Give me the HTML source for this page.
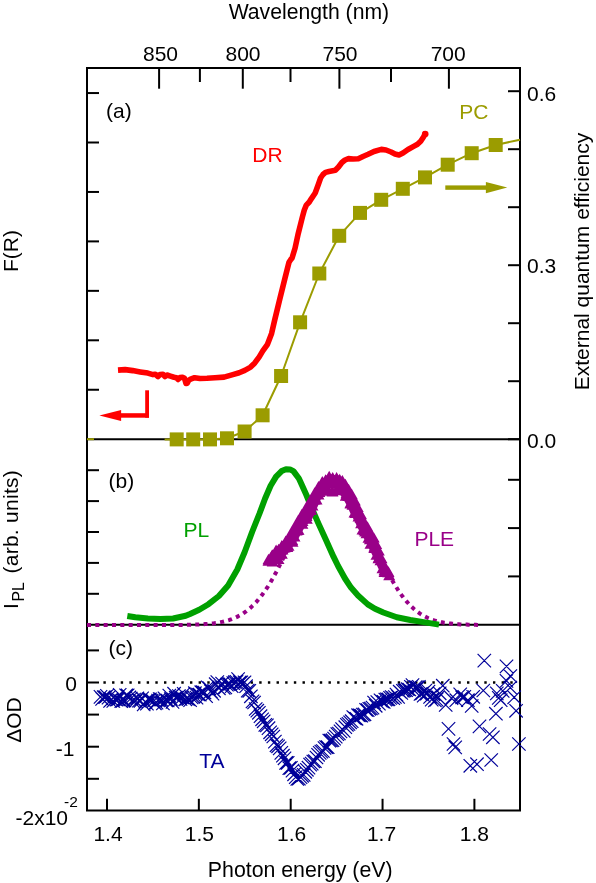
<!DOCTYPE html>
<html><head><meta charset="utf-8"><style>
html,body{margin:0;padding:0;background:#fff;}
svg{display:block;font-family:"Liberation Sans",sans-serif;will-change:transform;}
</style></head><body>
<svg width="596" height="883" viewBox="0 0 596 883">
<rect width="596" height="883" fill="#fff"/>
<path d="M87,68 H520 V810.4 H87 Z" fill="none" stroke="#000" stroke-width="2" stroke-linejoin="miter"/>
<line x1="88.00" y1="439.20" x2="520.00" y2="439.20" stroke="#000" stroke-width="2" />
<line x1="87.00" y1="624.70" x2="520.00" y2="624.70" stroke="#000" stroke-width="2" />
<line x1="159.10" y1="68.00" x2="159.10" y2="88.70" stroke="#000" stroke-width="2" />
<text x="160.50" y="60.50" text-anchor="middle" fill="#000" font-size="21" >850</text>
<line x1="242.80" y1="68.00" x2="242.80" y2="88.70" stroke="#000" stroke-width="2" />
<text x="243.05" y="60.50" text-anchor="middle" fill="#000" font-size="21" >800</text>
<line x1="339.40" y1="68.00" x2="339.40" y2="88.70" stroke="#000" stroke-width="2" />
<text x="340.05" y="60.50" text-anchor="middle" fill="#000" font-size="21" >750</text>
<line x1="448.90" y1="68.00" x2="448.90" y2="88.70" stroke="#000" stroke-width="2" />
<text x="448.15" y="60.50" text-anchor="middle" fill="#000" font-size="21" >700</text>
<line x1="199.90" y1="68.00" x2="199.90" y2="82.00" stroke="#000" stroke-width="2" />
<line x1="290.50" y1="68.00" x2="290.50" y2="82.00" stroke="#000" stroke-width="2" />
<line x1="391.00" y1="68.00" x2="391.00" y2="82.00" stroke="#000" stroke-width="2" />
<text x="308.90" y="19.20" text-anchor="middle" fill="#000" font-size="21.2" >Wavelength (nm)</text>
<line x1="107.00" y1="810.40" x2="107.00" y2="798.80" stroke="#000" stroke-width="2" />
<text x="108.00" y="841.40" text-anchor="middle" fill="#000" font-size="21" >1.4</text>
<line x1="198.85" y1="810.40" x2="198.85" y2="798.80" stroke="#000" stroke-width="2" />
<text x="199.35" y="841.40" text-anchor="middle" fill="#000" font-size="21" >1.5</text>
<line x1="290.70" y1="810.40" x2="290.70" y2="798.80" stroke="#000" stroke-width="2" />
<text x="291.70" y="841.40" text-anchor="middle" fill="#000" font-size="21" >1.6</text>
<line x1="382.55" y1="810.40" x2="382.55" y2="798.80" stroke="#000" stroke-width="2" />
<text x="381.55" y="841.40" text-anchor="middle" fill="#000" font-size="21" >1.7</text>
<line x1="474.40" y1="810.40" x2="474.40" y2="798.80" stroke="#000" stroke-width="2" />
<text x="474.40" y="841.40" text-anchor="middle" fill="#000" font-size="21" >1.8</text>
<text x="300.20" y="876.60" text-anchor="middle" fill="#000" font-size="21.3" >Photon energy (eV)</text>
<line x1="87.00" y1="389.75" x2="99.00" y2="389.75" stroke="#000" stroke-width="2" />
<line x1="87.00" y1="340.30" x2="99.00" y2="340.30" stroke="#000" stroke-width="2" />
<line x1="87.00" y1="290.85" x2="99.00" y2="290.85" stroke="#000" stroke-width="2" />
<line x1="87.00" y1="241.40" x2="99.00" y2="241.40" stroke="#000" stroke-width="2" />
<line x1="87.00" y1="191.95" x2="99.00" y2="191.95" stroke="#000" stroke-width="2" />
<line x1="87.00" y1="142.50" x2="99.00" y2="142.50" stroke="#000" stroke-width="2" />
<line x1="87.00" y1="93.05" x2="99.00" y2="93.05" stroke="#000" stroke-width="2" />
<line x1="508.00" y1="439.20" x2="520.00" y2="439.20" stroke="#000" stroke-width="2" />
<line x1="508.00" y1="381.20" x2="520.00" y2="381.20" stroke="#000" stroke-width="2" />
<line x1="508.00" y1="323.20" x2="520.00" y2="323.20" stroke="#000" stroke-width="2" />
<line x1="508.00" y1="265.20" x2="520.00" y2="265.20" stroke="#000" stroke-width="2" />
<line x1="508.00" y1="207.20" x2="520.00" y2="207.20" stroke="#000" stroke-width="2" />
<line x1="508.00" y1="149.20" x2="520.00" y2="149.20" stroke="#000" stroke-width="2" />
<line x1="508.00" y1="91.20" x2="520.00" y2="91.20" stroke="#000" stroke-width="2" />
<text x="527.00" y="101.00" text-anchor="start" fill="#000" font-size="21" >0.6</text>
<text x="527.00" y="273.40" text-anchor="start" fill="#000" font-size="21" >0.3</text>
<text x="527.00" y="447.50" text-anchor="start" fill="#000" font-size="21" >0.0</text>
<text x="106.00" y="117.50" text-anchor="start" fill="#000" font-size="21" >(a)</text>
<line x1="87.00" y1="593.80" x2="99.00" y2="593.80" stroke="#000" stroke-width="2" />
<line x1="87.00" y1="562.90" x2="99.00" y2="562.90" stroke="#000" stroke-width="2" />
<line x1="87.00" y1="532.00" x2="99.00" y2="532.00" stroke="#000" stroke-width="2" />
<line x1="87.00" y1="501.10" x2="99.00" y2="501.10" stroke="#000" stroke-width="2" />
<line x1="87.00" y1="470.20" x2="99.00" y2="470.20" stroke="#000" stroke-width="2" />
<line x1="508.00" y1="576.40" x2="520.00" y2="576.40" stroke="#000" stroke-width="2" />
<line x1="508.00" y1="528.10" x2="520.00" y2="528.10" stroke="#000" stroke-width="2" />
<line x1="508.00" y1="479.80" x2="520.00" y2="479.80" stroke="#000" stroke-width="2" />
<text x="108.50" y="488.00" text-anchor="start" fill="#000" font-size="21" >(b)</text>
<line x1="87.00" y1="778.80" x2="99.00" y2="778.80" stroke="#000" stroke-width="2" />
<line x1="87.00" y1="746.70" x2="99.00" y2="746.70" stroke="#000" stroke-width="2" />
<line x1="87.00" y1="714.60" x2="99.00" y2="714.60" stroke="#000" stroke-width="2" />
<line x1="87.00" y1="682.50" x2="99.00" y2="682.50" stroke="#000" stroke-width="2" />
<line x1="87.00" y1="650.40" x2="99.00" y2="650.40" stroke="#000" stroke-width="2" />
<text x="108.50" y="655.00" text-anchor="start" fill="#000" font-size="21" >(c)</text>
<text x="77.00" y="690.70" text-anchor="end" fill="#000" font-size="21" >0</text>
<text x="74.50" y="756.20" text-anchor="end" fill="#000" font-size="21" >-1</text>
<text x="68.00" y="825.00" text-anchor="end" fill="#000" font-size="21" >-2x10</text>
<text x="64.00" y="807.20" text-anchor="start" fill="#000" font-size="15.5" >-2</text>
<text transform="translate(17.8,251) rotate(-90)" text-anchor="middle" font-size="21">F(R)</text>
<text transform="translate(18.1,608.9) rotate(-90)" font-size="21">I</text>
<text transform="translate(24.2,601.6) rotate(-90)" font-size="16">PL</text>
<text transform="translate(18.1,573.6) rotate(-90)" font-size="21" letter-spacing="0.28">(arb. units)</text>
<text transform="translate(21,720) rotate(-90)" text-anchor="middle" font-size="21">&#916;OD</text>
<text transform="translate(588.7,261.5) rotate(-90)" text-anchor="middle" font-size="21">External quantum efficiency</text>
<text x="252.30" y="162.00" text-anchor="start" fill="#ff0000" font-size="21" >DR</text>
<text x="459.30" y="119.40" text-anchor="start" fill="#9b9c00" font-size="21" >PC</text>
<text x="183.60" y="537.30" text-anchor="start" fill="#00a000" font-size="21" >PL</text>
<text x="414.40" y="545.50" text-anchor="start" fill="#990088" font-size="21" >PLE</text>
<text x="199.30" y="768.00" text-anchor="start" fill="#000099" font-size="21" >TA</text>
<line x1="87.00" y1="439.20" x2="94.00" y2="439.20" stroke="#9b9c00" stroke-width="2" />
<path d="M164.6,439.4 L176.7,439.4 L193.2,439.4 L210.0,439.4 L227.0,438.3 L244.6,431.5 L262.6,415.3 L281.1,376.0 L300.1,322.3 L319.3,273.5 L339.2,235.8 L360.0,212.9 L381.2,199.8 L402.8,188.8 L425.0,177.4 L447.7,164.7 L471.7,153.2 L495.7,145.0 L520.0,139.7" fill="none" stroke="#9b9c00" stroke-width="2" stroke-linejoin="round" stroke-linecap="butt" />
<rect x="169.7" y="432.4" width="14" height="14" fill="#9b9c00"/>
<rect x="186.2" y="432.4" width="14" height="14" fill="#9b9c00"/>
<rect x="203.0" y="432.4" width="14" height="14" fill="#9b9c00"/>
<rect x="220.0" y="431.3" width="14" height="14" fill="#9b9c00"/>
<rect x="237.6" y="424.5" width="14" height="14" fill="#9b9c00"/>
<rect x="255.6" y="408.3" width="14" height="14" fill="#9b9c00"/>
<rect x="274.1" y="369.0" width="14" height="14" fill="#9b9c00"/>
<rect x="293.1" y="315.3" width="14" height="14" fill="#9b9c00"/>
<rect x="312.3" y="266.5" width="14" height="14" fill="#9b9c00"/>
<rect x="332.2" y="228.8" width="14" height="14" fill="#9b9c00"/>
<rect x="353.0" y="205.9" width="14" height="14" fill="#9b9c00"/>
<rect x="374.2" y="192.8" width="14" height="14" fill="#9b9c00"/>
<rect x="395.8" y="181.8" width="14" height="14" fill="#9b9c00"/>
<rect x="418.0" y="170.4" width="14" height="14" fill="#9b9c00"/>
<rect x="440.7" y="157.7" width="14" height="14" fill="#9b9c00"/>
<rect x="464.7" y="146.2" width="14" height="14" fill="#9b9c00"/>
<rect x="488.7" y="138.0" width="14" height="14" fill="#9b9c00"/>
<rect x="445.3" y="185.4" width="41" height="4.4" fill="#9b9c00"/>
<path d="M485.9,182 L507.3,187.5 L485.9,193.3 Z" fill="#9b9c00"/>
<path d="M118.0,370.1 L125.1,369.6 L132.7,370.6 L140.2,371.9 L147.8,373.1 L153.0,374.6 L155.3,374.2 L158.0,376.5 L160.0,374.5 L162.9,374.3 L165.0,376.5 L167.0,375.0 L170.4,376.1 L174.0,377.2 L176.4,377.7 L178.0,379.5 L180.0,377.5 L182.5,377.2 L184.5,378.2 L186.0,383.5 L187.3,383.2 L188.5,380.5 L190.0,379.4 L194.6,377.7 L200.0,378.5 L207.0,378.3 L215.0,377.8 L224.1,377.1 L232.8,374.6 L239.2,372.8 L244.8,370.4 L250.6,367.1 L254.8,362.9 L259.1,357.1 L262.8,350.9 L267.5,344.3 L271.6,333.4 L274.7,320.0 L279.8,299.0 L284.9,278.5 L289.0,262.2 L290.8,259.5 L292.0,258.2 L295.1,248.0 L298.2,233.7 L302.3,217.4 L304.3,210.0 L306.3,205.2 L309.3,202.0 L311.1,199.1 L315.2,193.0 L318.5,184.0 L320.6,178.0 L323.0,174.5 L325.5,172.4 L329.0,171.5 L335.3,170.3 L338.5,167.0 L341.9,162.5 L345.0,160.0 L348.5,158.6 L353.0,159.0 L358.3,158.8 L363.0,156.5 L368.1,154.3 L374.0,151.5 L381.3,149.4 L386.0,150.0 L391.1,152.0 L395.0,154.0 L399.0,155.0 L403.0,153.0 L408.0,149.5 L414.1,146.1 L417.5,144.2 L420.7,141.2 L423.5,137.0 L425.0,134.2 L426.0,132.6" fill="none" stroke="#ff0000" stroke-width="5.6" stroke-linejoin="round" stroke-linecap="butt" />
<circle cx="425.2" cy="134.0" r="3.3" fill="#ff0000"/>
<rect x="145.2" y="390.3" width="3.8" height="27.4" fill="#ff0000"/>
<rect x="120" y="413.2" width="29" height="4.5" fill="#ff0000"/>
<path d="M99.4,415.6 L121.1,410 L121.1,421.1 Z" fill="#ff0000"/>
<path d="M87.0,625.0 L88.0,625.0 L89.0,625.0 L90.0,625.0 L91.0,625.0 L92.0,625.0 L93.0,625.0 L94.0,625.0 L95.0,625.0 L96.0,625.0 L97.0,625.0 L98.0,625.0 L99.0,625.0 L100.0,625.0 L101.0,625.0 L102.0,625.0 L103.0,625.0 L104.0,625.0 L105.0,625.0 L106.0,625.0 L107.0,625.0 L108.0,625.0 L109.0,625.0 L110.0,625.0 L111.0,625.0 L112.0,625.0 L113.0,625.0 L114.0,625.0 L115.0,625.0 L116.0,625.0 L117.0,625.0 L118.0,625.0 L119.0,625.0 L120.0,625.0 L121.0,625.0 L122.0,625.0 L123.0,625.0 L124.0,625.0 L125.0,625.0 L126.0,625.0 L127.0,625.0 L128.0,625.0 L129.0,625.0 L130.0,625.0 L131.0,625.0 L132.0,625.0 L133.0,625.0 L134.0,625.0 L135.0,625.0 L136.0,625.0 L137.0,625.0 L138.0,625.0 L139.0,625.0 L140.0,625.0 L141.0,625.0 L142.0,625.0 L143.0,625.0 L144.0,625.0 L145.0,625.0 L146.0,625.0 L147.0,625.0 L148.0,625.0 L149.0,625.0 L150.0,625.0 L151.0,625.0 L152.0,625.0 L153.0,625.0 L154.0,625.0 L155.0,625.0 L156.0,625.0 L157.0,625.0 L158.0,625.0 L159.0,625.0 L160.0,625.0 L161.0,625.0 L162.0,625.0 L163.0,625.0 L164.0,625.0 L165.0,625.0 L166.0,625.0 L167.0,625.0 L168.0,625.0 L169.0,625.0 L170.0,625.0 L171.0,625.0 L172.0,625.0 L173.0,625.0 L174.0,624.9 L175.0,624.9 L176.0,624.9 L177.0,624.9 L178.0,624.9 L179.0,624.9 L180.0,624.9 L181.0,624.9 L182.0,624.9 L183.0,624.9 L184.0,624.9 L185.0,624.8 L186.0,624.8 L187.0,624.8 L188.0,624.8 L189.0,624.8 L190.0,624.8 L191.0,624.7 L192.0,624.7 L193.0,624.7 L194.0,624.7 L195.0,624.6 L196.0,624.6 L197.0,624.6 L198.0,624.5 L199.0,624.5 L200.0,624.4 L201.0,624.4 L202.0,624.3 L203.0,624.3 L204.0,624.2 L205.0,624.1 L206.0,624.1 L207.0,624.0 L208.0,623.9 L209.0,623.8 L210.0,623.7 L211.0,623.6 L212.0,623.5 L213.0,623.4 L214.0,623.3 L215.0,623.1 L216.0,623.0 L217.0,622.8 L218.0,622.7 L219.0,622.5 L220.0,622.3 L221.0,622.1 L222.0,621.9 L223.0,621.7 L224.0,621.5 L225.0,621.2 L226.0,620.9 L227.0,620.7 L228.0,620.4 L229.0,620.1 L230.0,619.7 L231.0,619.4 L232.0,619.0 L233.0,618.6 L234.0,618.2 L235.0,617.8 L236.0,617.3 L237.0,616.9 L238.0,616.4 L239.0,615.8 L240.0,615.3 L241.0,614.7 L242.0,614.1 L243.0,613.5 L244.0,612.8 L245.0,612.1 L246.0,611.4 L247.0,610.6 L248.0,609.8 L249.0,609.0 L250.0,608.2 L251.0,607.3 L252.0,606.3 L253.0,605.4 L254.0,604.4 L255.0,603.3 L256.0,602.3 L257.0,601.2 L258.0,600.0 L259.0,598.8 L260.0,597.6 L261.0,596.3 L262.0,595.0 L263.0,593.6 L264.0,592.2 L265.0,590.8 L266.0,589.3 L267.0,587.8 L268.0,586.3 L269.0,584.7 L270.0,583.1 L271.0,581.4 L272.0,579.7 L273.0,577.9 L274.0,576.1 L275.0,574.3 L276.0,572.5 L277.0,570.6 L278.0,568.7 L279.0,566.7 L280.0,564.7 L281.0,562.7 L282.0,560.7 L283.0,558.6 L284.0,556.5 L285.0,554.4 L286.0,552.3 L287.0,550.2 L288.0,548.0 L289.0,545.8 L290.0,543.6 L291.0,541.4 L292.0,539.3 L293.0,537.1 L294.0,534.9 L295.0,532.7 L296.0,530.5 L297.0,528.3 L298.0,526.1 L299.0,524.0 L300.0,521.8 L301.0,519.7 L302.0,517.6 L303.0,515.5 L304.0,513.5 L305.0,511.5 L306.0,509.5 L307.0,507.6 L308.0,505.7 L309.0,503.9 L310.0,502.1 L311.0,500.4 L312.0,498.7 L313.0,497.0 L314.0,495.5 L315.0,494.0 L316.0,492.5 L317.0,491.1 L318.0,489.8 L319.0,488.6 L320.0,487.5 L321.0,486.4 L322.0,485.4 L323.0,484.5 L324.0,483.6 L325.0,482.9 L326.0,482.2 L327.0,481.6 L328.0,481.1 L329.0,480.7 L330.0,480.4 L331.0,480.2 L332.0,480.0 L333.0,480.0 L334.0,480.0 L335.0,480.2 L336.0,480.4 L337.0,480.8 L338.0,481.2 L339.0,481.7 L340.0,482.4 L341.0,483.1 L342.0,483.9 L343.0,484.8 L344.0,485.8 L345.0,486.8 L346.0,488.0 L347.0,489.2 L348.0,490.5 L349.0,491.9 L350.0,493.4 L351.0,494.9 L352.0,496.5 L353.0,498.2 L354.0,499.9 L355.0,501.7 L356.0,503.6 L357.0,505.5 L358.0,507.4 L359.0,509.4 L360.0,511.5 L361.0,513.5 L362.0,515.7 L363.0,517.8 L364.0,520.0 L365.0,522.2 L366.0,524.4 L367.0,526.6 L368.0,528.9 L369.0,531.1 L370.0,533.4 L371.0,535.7 L372.0,538.0 L373.0,540.2 L374.0,542.5 L375.0,544.8 L376.0,547.0 L377.0,549.3 L378.0,551.5 L379.0,553.7 L380.0,555.9 L381.0,558.1 L382.0,560.2 L383.0,562.3 L384.0,564.4 L385.0,566.5 L386.0,568.5 L387.0,570.5 L388.0,572.5 L389.0,574.4 L390.0,576.3 L391.0,578.1 L392.0,579.9 L393.0,581.7 L394.0,583.4 L395.0,585.1 L396.0,586.7 L397.0,588.3 L398.0,589.9 L399.0,591.4 L400.0,592.9 L401.0,594.3 L402.0,595.7 L403.0,597.0 L404.0,598.3 L405.0,599.5 L406.0,600.7 L407.0,601.9 L408.0,603.0 L409.0,604.1 L410.0,605.2 L411.0,606.2 L412.0,607.1 L413.0,608.1 L414.0,609.0 L415.0,609.8 L416.0,610.6 L417.0,611.4 L418.0,612.2 L419.0,612.9 L420.0,613.6 L421.0,614.2 L422.0,614.8 L423.0,615.4 L424.0,616.0 L425.0,616.5 L426.0,617.0 L427.0,617.5 L428.0,618.0 L429.0,618.4 L430.0,618.8 L431.0,619.2 L432.0,619.6 L433.0,619.9 L434.0,620.3 L435.0,620.6 L436.0,620.9 L437.0,621.2 L438.0,621.4 L439.0,621.7 L440.0,621.9 L441.0,622.1 L442.0,622.3 L443.0,622.5 L444.0,622.7 L445.0,622.8 L446.0,623.0 L447.0,623.1 L448.0,623.3 L449.0,623.4 L450.0,623.5 L451.0,623.6 L452.0,623.7 L453.0,623.8 L454.0,623.9 L455.0,624.0 L456.0,624.1 L457.0,624.2 L458.0,624.2 L459.0,624.3 L460.0,624.4 L461.0,624.4 L462.0,624.5 L463.0,624.5 L464.0,624.5 L465.0,624.6 L466.0,624.6 L467.0,624.6 L468.0,624.7 L469.0,624.7 L470.0,624.7 L471.0,624.8 L472.0,624.8 L473.0,624.8 L474.0,624.8 L475.0,624.8 L476.0,624.8 L477.0,624.9 L478.0,624.9 L479.0,624.9 L480.0,624.9 L481.0,624.9 L482.0,624.9" fill="none" stroke="#990088" stroke-width="4" stroke-linejoin="round" stroke-linecap="butt" stroke-dasharray="4 4.33"/>
<path d="M127.3,616.0 L135.3,617.3 L147.9,618.5 L160.5,619.0 L173.1,618.5 L185.7,615.8 L190.0,614.0 L199.2,609.8 L208.5,604.2 L218.9,596.0 L228.1,585.5 L237.3,569.5 L244.7,552.0 L252.1,532.0 L259.5,513.5 L265.0,498.8 L270.6,485.8 L276.1,476.6 L281.6,471.1 L286.0,469.2 L290.0,469.4 L293.4,471.1 L298.9,478.5 L300.3,481.5 L306.4,495.0 L312.4,509.8 L318.4,523.4 L326.0,540.0 L333.5,556.7 L338.1,566.0 L345.0,578.5 L351.0,587.6 L358.0,595.5 L367.8,604.4 L375.0,608.8 L383.4,612.5 L396.8,617.3 L410.3,620.0 L423.7,622.1 L439.0,624.6" fill="none" stroke="#00a000" stroke-width="6.0" stroke-linejoin="round" stroke-linecap="butt" />
<path d="M269.0,558.7 L270.0,557.5 L271.0,556.2 L272.0,555.1 L273.0,554.1 L274.0,553.1 L275.0,552.1 L276.0,551.1 L277.0,550.1 L278.0,549.1 L279.0,548.2 L280.0,547.3 L281.0,546.3 L282.0,545.4 L283.0,544.5 L284.0,543.4 L285.0,542.4 L286.0,541.3 L287.0,540.2 L288.0,539.2 L289.0,538.0 L290.0,535.9 L291.0,533.7 L292.0,531.6 L293.0,529.5 L294.0,527.9 L295.0,526.2 L296.0,524.6 L297.0,522.9 L298.0,521.3 L299.0,519.7 L300.0,518.1 L301.0,516.5 L302.0,514.9 L303.0,513.3 L304.0,511.7 L305.0,510.1 L306.0,508.4 L307.0,506.7 L308.0,504.9 L309.0,503.2 L310.0,501.5 L311.0,499.8 L312.0,498.0 L313.0,496.3 L314.0,494.6 L315.0,492.8 L316.0,491.1 L317.0,489.3 L318.0,487.5 L319.0,486.2 L320.0,485.0 L321.0,483.7 L322.0,482.4 L323.0,481.3 L324.0,480.4 L325.0,479.4 L326.0,478.5 L327.0,477.9 L328.0,477.4 L329.0,476.8 L330.0,476.3 L331.0,476.1 L332.0,476.4 L333.0,476.7 L334.0,477.0 L335.0,477.2 L336.0,477.5 L337.0,478.1 L338.0,478.7 L339.0,479.3 L340.0,479.9 L341.0,480.6 L342.0,481.2 L343.0,482.0 L344.0,483.2 L345.0,484.5 L346.0,485.8 L347.0,487.0 L348.0,488.3 L349.0,489.8 L350.0,491.7 L351.0,493.6 L352.0,495.6 L353.0,497.5 L354.0,499.5 L355.0,501.6 L356.0,503.6 L357.0,505.7 L358.0,507.8 L359.0,510.3 L360.0,512.8 L361.0,515.4 L362.0,517.9 L363.0,520.4 L364.0,522.7 L365.0,524.1 L366.0,525.6 L367.0,527.0 L368.0,528.5 L369.0,530.0 L370.0,531.6 L371.0,533.1 L372.0,534.6 L373.0,536.3 L374.0,538.8 L375.0,541.3 L376.0,543.8 L377.0,546.3 L378.0,548.8 L379.0,551.3 L380.0,553.7 L381.0,556.1 L382.0,558.5 L383.0,560.9 L384.0,563.4 L385.0,565.8 L386.0,568.2 L387.0,570.3 L388.0,572.1 L389.0,573.9 L389.0,574.5 L388.0,574.5 L387.0,574.5 L386.0,574.5 L385.0,574.5 L384.0,574.5 L383.0,574.5 L382.0,574.5 L381.0,574.5 L380.0,572.0 L379.0,569.8 L378.0,567.7 L377.0,565.6 L376.0,563.5 L375.0,561.1 L374.0,558.8 L373.0,556.4 L372.0,554.4 L371.0,552.4 L370.0,550.5 L369.0,548.5 L368.0,546.5 L367.0,544.5 L366.0,542.5 L365.0,540.5 L364.0,538.5 L363.0,536.8 L362.0,535.1 L361.0,533.5 L360.0,531.8 L359.0,530.2 L358.0,528.5 L357.0,526.4 L356.0,524.3 L355.0,522.1 L354.0,520.2 L353.0,518.2 L352.0,516.3 L351.0,514.4 L350.0,512.5 L349.0,510.3 L348.0,508.1 L347.0,506.0 L346.0,504.1 L345.0,502.3 L344.0,500.4 L343.0,498.5 L342.0,497.3 L341.0,496.0 L340.0,494.8 L339.0,493.6 L338.0,492.4 L337.0,491.2 L336.0,490.1 L335.0,489.0 L334.0,488.7 L333.0,488.5 L332.0,488.2 L331.0,488.0 L330.0,488.4 L329.0,488.9 L328.0,489.3 L327.0,490.2 L326.0,491.3 L325.0,492.5 L324.0,493.7 L323.0,494.8 L322.0,496.4 L321.0,498.7 L320.0,501.1 L319.0,503.4 L318.0,505.7 L317.0,508.0 L316.0,510.3 L315.0,512.5 L314.0,514.7 L313.0,517.0 L312.0,519.2 L311.0,520.6 L310.0,521.6 L309.0,522.6 L308.0,523.6 L307.0,524.6 L306.0,525.6 L305.0,526.6 L304.0,528.4 L303.0,530.2 L302.0,532.0 L301.0,533.8 L300.0,535.6 L299.0,537.4 L298.0,539.1 L297.0,540.6 L296.0,542.0 L295.0,543.4 L294.0,544.8 L293.0,546.3 L292.0,547.7 L291.0,549.1 L290.0,550.5 L289.0,552.0 L288.0,553.0 L287.0,554.0 L286.0,555.0 L285.0,556.0 L284.0,556.9 L283.0,557.9 L282.0,558.9 L281.0,559.9 L280.0,560.1 L279.0,560.1 L278.0,560.1 L277.0,560.1 L276.0,560.1 L275.0,560.0 L274.0,560.0 L273.0,560.0 L272.0,560.0 L271.0,560.0 L270.0,560.0 L269.0,559.8 Z" fill="#990088"/>
<path d="M268.5,553.8L274.5,564.3L262.5,564.3ZM272.2,549.3L278.2,559.8L266.2,559.8ZM276.1,544.6L282.1,555.1L270.1,555.1ZM278.6,543.8L284.6,554.3L272.6,554.3ZM281.8,540.1L287.8,550.6L275.8,550.6ZM285.7,535.5L291.7,546.0L279.7,546.0ZM288.4,532.9L294.4,543.4L282.4,543.4ZM291.7,525.9L297.7,536.4L285.7,536.4ZM295.0,520.2L301.0,530.7L289.0,530.7ZM298.0,514.9L304.0,525.4L292.0,525.4ZM301.8,508.7L307.8,519.2L295.8,519.2ZM305.5,503.1L311.5,513.6L299.5,513.6ZM308.2,498.3L314.2,508.8L302.2,508.8ZM310.7,494.0L316.7,504.5L304.7,504.5ZM314.6,487.3L320.6,497.8L308.6,497.8ZM318.5,480.9L324.5,491.4L312.5,491.4ZM322.3,476.0L328.3,486.5L316.3,486.5ZM325.6,474.3L331.6,484.8L319.6,484.8ZM329.2,470.8L335.2,481.3L323.2,481.3ZM332.7,471.9L338.7,482.4L326.7,482.4ZM336.6,471.9L342.6,482.4L330.6,482.4ZM339.7,473.7L345.7,484.2L333.7,484.2ZM342.4,475.1L348.4,485.6L336.4,485.6ZM345.4,478.7L351.4,489.2L339.4,489.2ZM348.8,484.1L354.8,494.6L342.8,494.6ZM351.8,488.7L357.8,499.2L345.8,499.2ZM354.8,495.0L360.8,505.5L348.8,505.5ZM357.7,501.5L363.7,512.0L351.7,512.0ZM361.0,508.8L367.0,519.3L355.0,519.3ZM364.9,517.8L370.9,528.3L358.9,528.3ZM367.5,521.2L373.5,531.7L361.5,531.7ZM370.0,526.6L376.0,537.1L364.0,537.1ZM373.7,532.1L379.7,542.6L367.7,542.6ZM376.2,538.5L382.2,549.0L370.2,549.0ZM378.8,545.1L384.8,555.6L372.8,555.6ZM381.5,552.7L387.5,563.2L375.5,563.2ZM385.2,561.5L391.2,572.0L379.2,572.0ZM388.2,566.8L394.2,577.3L382.2,577.3ZM268.5,555.2L274.5,565.7L262.5,565.7ZM272.7,555.9L278.7,566.4L266.7,566.4ZM277.8,552.9L283.8,563.4L271.8,563.4ZM281.8,548.2L287.8,558.7L275.8,558.7ZM287.3,541.5L293.3,552.0L281.3,552.0ZM292.2,534.6L298.2,545.1L286.2,545.1ZM297.6,524.6L303.6,535.1L291.6,535.1ZM302.4,518.3L308.4,528.8L296.4,528.8ZM306.8,513.2L312.8,523.7L300.8,523.7ZM311.0,503.8L317.0,514.3L305.0,514.3ZM315.2,493.7L321.2,504.2L309.2,504.2ZM319.4,486.4L325.4,496.9L313.4,496.9ZM323.5,484.0L329.5,494.5L317.5,494.5ZM328.1,484.7L334.1,495.2L322.1,495.2ZM332.5,486.0L338.5,496.5L326.5,496.5ZM337.1,483.5L343.1,494.0L331.1,494.0ZM341.8,484.7L347.8,495.2L335.8,495.2ZM345.8,490.2L351.8,500.7L339.8,500.7ZM350.6,497.3L356.6,507.8L344.6,507.8ZM355.7,507.5L361.7,518.0L349.7,518.0ZM361.1,517.7L367.1,528.2L355.1,528.2ZM365.2,525.9L371.2,536.4L359.2,536.4ZM369.9,533.7L375.9,544.2L363.9,544.2ZM374.3,542.4L380.3,552.9L368.3,552.9ZM379.0,551.5L385.0,562.0L373.0,562.0ZM384.5,564.7L390.5,575.2L378.5,575.2ZM389.2,569.7L395.2,580.2L383.2,580.2ZM268.5,553.8L274.5,564.3L262.5,564.3ZM270.5,551.9L276.5,562.4L264.5,562.4ZM272.5,553.3L278.5,563.8L266.5,563.8ZM274.5,551.5L280.5,562.0L268.5,562.0ZM276.5,550.9L282.5,561.4L270.5,561.4ZM278.5,553.4L284.5,563.9L272.5,563.9ZM280.5,547.1L286.5,557.6L274.5,557.6ZM282.5,544.0L288.5,554.5L276.5,554.5ZM284.5,542.0L290.5,552.5L278.5,552.5ZM286.5,541.2L292.5,551.7L280.5,551.7ZM288.5,540.3L294.5,550.8L282.5,550.8ZM290.5,535.8L296.5,546.3L284.5,546.3ZM292.5,536.2L298.5,546.7L286.5,546.7ZM294.5,530.9L300.5,541.4L288.5,541.4ZM296.5,525.1L302.5,535.6L290.5,535.6ZM298.5,524.2L304.5,534.7L292.5,534.7ZM300.5,516.6L306.5,527.1L294.5,527.1ZM302.5,515.6L308.5,526.1L296.5,526.1ZM304.5,510.4L310.5,520.9L298.5,520.9ZM306.5,510.4L312.5,520.9L300.5,520.9ZM308.5,505.7L314.5,516.2L302.5,516.2ZM310.5,504.4L316.5,514.9L304.5,514.9ZM312.5,500.1L318.5,510.6L306.5,510.6ZM314.5,494.3L320.5,504.8L308.5,504.8ZM316.5,494.0L322.5,504.5L310.5,504.5ZM318.5,489.1L324.5,499.6L312.5,499.6ZM320.5,484.6L326.5,495.1L314.5,495.1ZM322.5,485.3L328.5,495.8L316.5,495.8ZM324.5,479.5L330.5,490.0L318.5,490.0ZM326.5,478.2L332.5,488.7L320.5,488.7ZM328.5,477.0L334.5,487.5L322.5,487.5ZM330.5,474.7L336.5,485.2L324.5,485.2ZM332.5,476.0L338.5,486.5L326.5,486.5ZM334.5,475.9L340.5,486.4L328.5,486.4ZM336.5,476.3L342.5,486.8L330.5,486.8ZM338.5,481.2L344.5,491.7L332.5,491.7ZM340.5,479.2L346.5,489.7L334.5,489.7ZM342.5,484.2L348.5,494.7L336.5,494.7ZM344.5,484.8L350.5,495.3L338.5,495.3ZM346.5,487.7L352.5,498.2L340.5,498.2ZM348.5,490.5L354.5,501.0L342.5,501.0ZM350.5,497.9L356.5,508.4L344.5,508.4ZM352.5,499.3L358.5,509.8L346.5,509.8ZM354.5,507.1L360.5,517.6L348.5,517.6ZM356.5,505.6L362.5,516.1L350.5,516.1ZM358.5,511.1L364.5,521.6L352.5,521.6ZM360.5,512.3L366.5,522.8L354.5,522.8ZM362.5,523.9L368.5,534.4L356.5,534.4ZM364.5,524.8L370.5,535.3L358.5,535.3ZM366.5,527.7L372.5,538.2L360.5,538.2ZM368.5,532.2L374.5,542.7L362.5,542.7ZM370.5,538.3L376.5,548.8L364.5,548.8ZM372.5,535.4L378.5,545.9L366.5,545.9ZM374.5,541.0L380.5,551.5L368.5,551.5ZM376.5,549.2L382.5,559.7L370.5,559.7ZM378.5,552.8L384.5,563.3L372.5,563.3ZM380.5,554.8L386.5,565.3L374.5,565.3ZM382.5,562.8L388.5,573.3L376.5,573.3ZM384.5,566.6L390.5,577.1L378.5,577.1ZM386.5,563.4L392.5,573.9L380.5,573.9ZM388.5,566.3L394.5,576.8L382.5,576.8Z" fill="#990088"/>
<line x1="103.4" y1="682.5" x2="519" y2="682.5" stroke="#000" stroke-width="2.4" stroke-dasharray="2.4 6.257"/>
<path d="M93.8,690.2L107.2,703.6M93.8,703.6L107.2,690.2M95.4,692.2L108.8,705.6M95.4,705.6L108.8,692.2M97.0,690.5L110.4,703.9M97.0,703.9L110.4,690.5M98.6,690.4L112.0,703.8M98.6,703.8L112.0,690.4M100.2,689.1L113.6,702.5M100.2,702.5L113.6,689.1M101.8,690.9L115.2,704.3M101.8,704.3L115.2,690.9M103.4,694.2L116.8,707.6M103.4,707.6L116.8,694.2M105.0,692.7L118.4,706.1M105.0,706.1L118.4,692.7M106.6,694.3L120.0,707.7M106.6,707.7L120.0,694.3M108.2,692.5L121.6,705.9M108.2,705.9L121.6,692.5M109.8,693.0L123.2,706.4M109.8,706.4L123.2,693.0M111.4,692.6L124.8,706.0M111.4,706.0L124.8,692.6M113.0,688.2L126.4,701.6M113.0,701.6L126.4,688.2M114.6,694.4L128.0,707.8M114.6,707.8L128.0,694.4M116.2,693.7L129.6,707.1M116.2,707.1L129.6,693.7M117.8,693.8L131.2,707.2M117.8,707.2L131.2,693.8M119.4,688.6L132.8,702.0M119.4,702.0L132.8,688.6M121.0,688.6L134.4,702.0M121.0,702.0L134.4,688.6M122.6,690.7L136.0,704.1M122.6,704.1L136.0,690.7M124.2,691.8L137.6,705.2M124.2,705.2L137.6,691.8M125.8,693.7L139.2,707.1M125.8,707.1L139.2,693.7M127.4,692.9L140.8,706.3M127.4,706.3L140.8,692.9M129.0,694.3L142.4,707.7M129.0,707.7L142.4,694.3M130.6,691.6L144.0,705.0M130.6,705.0L144.0,691.6M132.2,693.9L145.6,707.3M132.2,707.3L145.6,693.9M133.8,694.2L147.2,707.6M133.8,707.6L147.2,694.2M135.4,691.7L148.8,705.1M135.4,705.1L148.8,691.7M137.0,697.7L150.4,711.1M137.0,711.1L150.4,697.7M138.6,695.1L152.0,708.5M138.6,708.5L152.0,695.1M140.2,696.9L153.6,710.3M140.2,710.3L153.6,696.9M141.8,692.7L155.2,706.1M141.8,706.1L155.2,692.7M143.4,692.7L156.8,706.1M143.4,706.1L156.8,692.7M145.0,693.8L158.4,707.2M145.0,707.2L158.4,693.8M146.6,694.6L160.0,708.0M146.6,708.0L160.0,694.6M148.2,696.6L161.6,710.0M148.2,710.0L161.6,696.6M149.8,695.9L163.2,709.3M149.8,709.3L163.2,695.9M151.4,693.8L164.8,707.2M151.4,707.2L164.8,693.8M153.0,692.3L166.4,705.7M153.0,705.7L166.4,692.3M154.6,693.0L168.0,706.4M154.6,706.4L168.0,693.0M156.2,696.8L169.6,710.2M156.2,710.2L169.6,696.8M157.8,691.6L171.2,705.0M157.8,705.0L171.2,691.6M159.4,693.7L172.8,707.1M159.4,707.1L172.8,693.7M161.0,693.8L174.4,707.2M161.0,707.2L174.4,693.8M162.6,688.9L176.0,702.3M162.6,702.3L176.0,688.9M164.2,692.3L177.6,705.7M164.2,705.7L177.6,692.3M165.8,695.2L179.2,708.6M165.8,708.6L179.2,695.2M167.4,687.0L180.8,700.4M167.4,700.4L180.8,687.0M169.0,690.9L182.4,704.3M169.0,704.3L182.4,690.9M170.6,691.2L184.0,704.6M170.6,704.6L184.0,691.2M172.2,689.3L185.6,702.7M172.2,702.7L185.6,689.3M173.8,692.3L187.2,705.7M173.8,705.7L187.2,692.3M175.4,690.8L188.8,704.2M175.4,704.2L188.8,690.8M177.0,687.2L190.4,700.6M177.0,700.6L190.4,687.2M178.6,692.6L192.0,706.0M178.6,706.0L192.0,692.6M180.2,692.0L193.6,705.4M180.2,705.4L193.6,692.0M181.8,692.5L195.2,705.9M181.8,705.9L195.2,692.5M183.4,693.5L196.8,706.9M183.4,706.9L196.8,693.5M185.0,690.8L198.4,704.2M185.0,704.2L198.4,690.8M186.6,690.1L200.0,703.5M186.6,703.5L200.0,690.1M188.2,686.5L201.6,699.9M188.2,699.9L201.6,686.5M189.8,690.9L203.2,704.3M189.8,704.3L203.2,690.9M191.4,687.8L204.8,701.2M191.4,701.2L204.8,687.8M193.0,688.0L206.4,701.4M193.0,701.4L206.4,688.0M194.6,685.5L208.0,698.9M194.6,698.9L208.0,685.5M196.2,685.5L209.6,698.9M196.2,698.9L209.6,685.5M197.8,685.8L211.2,699.2M197.8,699.2L211.2,685.8M199.4,689.4L212.8,702.8M199.4,702.8L212.8,689.4M201.0,680.7L214.4,694.1M201.0,694.1L214.4,680.7M202.6,681.4L216.0,694.8M202.6,694.8L216.0,681.4M204.2,684.7L217.6,698.1M204.2,698.1L217.6,684.7M205.8,686.9L219.2,700.3M205.8,700.3L219.2,686.9M207.4,684.1L220.8,697.5M207.4,697.5L220.8,684.1M209.0,677.5L222.4,690.9M209.0,690.9L222.4,677.5M210.6,675.3L224.0,688.7M210.6,688.7L224.0,675.3M212.2,681.6L225.6,695.0M212.2,695.0L225.6,681.6M213.8,678.3L227.2,691.7M213.8,691.7L227.2,678.3M215.4,676.8L228.8,690.2M215.4,690.2L228.8,676.8M217.0,681.2L230.4,694.6M217.0,694.6L230.4,681.2M218.6,680.8L232.0,694.2M218.6,694.2L232.0,680.8M220.2,677.9L233.6,691.3M220.2,691.3L233.6,677.9M221.8,677.5L235.2,690.9M221.8,690.9L235.2,677.5M223.4,677.3L236.8,690.7M223.4,690.7L236.8,677.3M225.0,679.4L238.4,692.8M225.0,692.8L238.4,679.4M226.6,676.4L240.0,689.8M226.6,689.8L240.0,676.4M228.2,675.5L241.6,688.9M228.2,688.9L241.6,675.5M229.8,675.2L243.2,688.6M229.8,688.6L243.2,675.2M231.4,672.3L244.8,685.7M231.4,685.7L244.8,672.3M233.0,675.6L246.4,689.0M233.0,689.0L246.4,675.6M234.6,675.7L248.0,689.1M234.6,689.1L248.0,675.7M236.2,676.8L249.6,690.2M236.2,690.2L249.6,676.8M237.8,675.6L251.2,689.0M237.8,689.0L251.2,675.6M239.4,679.5L252.8,692.9M239.4,692.9L252.8,679.5M241.0,683.9L254.4,697.3M241.0,697.3L254.4,683.9M242.6,684.2L256.0,697.6M242.6,697.6L256.0,684.2M244.2,689.6L257.6,703.0M244.2,703.0L257.6,689.6M245.8,694.7L259.2,708.1M245.8,708.1L259.2,694.7M247.4,695.8L260.8,709.2M247.4,709.2L260.8,695.8M249.0,702.3L262.4,715.7M249.0,715.7L262.4,702.3M250.6,704.0L264.0,717.4M250.6,717.4L264.0,704.0M252.2,706.1L265.6,719.5M252.2,719.5L265.6,706.1M253.8,709.5L267.2,722.9M253.8,722.9L267.2,709.5M255.4,712.6L268.8,726.0M255.4,726.0L268.8,712.6M257.0,714.6L270.4,728.0M257.0,728.0L270.4,714.6M258.6,718.2L272.0,731.6M258.6,731.6L272.0,718.2M260.2,718.7L273.6,732.1M260.2,732.1L273.6,718.7M261.8,721.5L275.2,734.9M261.8,734.9L275.2,721.5M263.4,725.6L276.8,739.0M263.4,739.0L276.8,725.6M265.0,727.6L278.4,741.0M265.0,741.0L278.4,727.6M266.6,729.8L280.0,743.2M266.6,743.2L280.0,729.8M268.2,734.9L281.6,748.3M268.2,748.3L281.6,734.9M269.8,738.6L283.2,752.0M269.8,752.0L283.2,738.6M271.4,739.6L284.8,753.0M271.4,753.0L284.8,739.6M273.0,741.7L286.4,755.1M273.0,755.1L286.4,741.7M274.6,746.2L288.0,759.6M274.6,759.6L288.0,746.2M276.2,749.0L289.6,762.4M276.2,762.4L289.6,749.0M277.8,751.6L291.2,765.0M277.8,765.0L291.2,751.6M279.4,756.2L292.8,769.6M279.4,769.6L292.8,756.2M281.0,756.2L294.4,769.6M281.0,769.6L294.4,756.2M282.6,761.5L296.0,774.9M282.6,774.9L296.0,761.5M284.2,761.1L297.6,774.5M284.2,774.5L297.6,761.1M285.8,763.9L299.2,777.3M285.8,777.3L299.2,763.9M287.4,767.6L300.8,781.0M287.4,781.0L300.8,767.6M289.0,770.4L302.4,783.8M289.0,783.8L302.4,770.4M290.6,772.3L304.0,785.7M290.6,785.7L304.0,772.3M292.2,771.9L305.6,785.3M292.2,785.3L305.6,771.9M293.8,770.4L307.2,783.8M293.8,783.8L307.2,770.4M295.4,769.1L308.8,782.5M295.4,782.5L308.8,769.1M297.0,768.2L310.4,781.6M297.0,781.6L310.4,768.2M298.6,765.1L312.0,778.5M298.6,778.5L312.0,765.1M300.2,763.1L313.6,776.5M300.2,776.5L313.6,763.1M301.8,761.0L315.2,774.4M301.8,774.4L315.2,761.0M303.4,757.9L316.8,771.3M303.4,771.3L316.8,757.9M305.0,756.9L318.4,770.3M305.0,770.3L318.4,756.9M306.6,754.8L320.0,768.2M306.6,768.2L320.0,754.8M308.2,754.5L321.6,767.9M308.2,767.9L321.6,754.5M309.8,750.8L323.2,764.2M309.8,764.2L323.2,750.8M311.4,748.1L324.8,761.5M311.4,761.5L324.8,748.1M313.0,746.2L326.4,759.6M313.0,759.6L326.4,746.2M314.6,744.9L328.0,758.3M314.6,758.3L328.0,744.9M316.2,744.3L329.6,757.7M316.2,757.7L329.6,744.3M317.8,741.3L331.2,754.7M317.8,754.7L331.2,741.3M319.4,740.4L332.8,753.8M319.4,753.8L332.8,740.4M321.0,740.4L334.4,753.8M321.0,753.8L334.4,740.4M322.6,733.9L336.0,747.3M322.6,747.3L336.0,733.9M324.2,733.8L337.6,747.2M324.2,747.2L337.6,733.8M325.8,733.5L339.2,746.9M325.8,746.9L339.2,733.5M327.4,731.9L340.8,745.3M327.4,745.3L340.8,731.9M329.0,729.9L342.4,743.3M329.0,743.3L342.4,729.9M330.6,727.4L344.0,740.8M330.6,740.8L344.0,727.4M332.2,726.8L345.6,740.2M332.2,740.2L345.6,726.8M333.8,724.7L347.2,738.1M333.8,738.1L347.2,724.7M335.4,722.4L348.8,735.8M335.4,735.8L348.8,722.4M337.0,724.2L350.4,737.6M337.0,737.6L350.4,724.2M338.6,720.5L352.0,733.9M338.6,733.9L352.0,720.5M340.2,718.1L353.6,731.5M340.2,731.5L353.6,718.1M341.8,717.2L355.2,730.6M341.8,730.6L355.2,717.2M343.4,715.6L356.8,729.0M343.4,729.0L356.8,715.6M345.0,714.5L358.4,727.9M345.0,727.9L358.4,714.5M346.6,710.4L360.0,723.8M346.6,723.8L360.0,710.4M348.2,711.6L361.6,725.0M348.2,725.0L361.6,711.6M349.8,712.1L363.2,725.5M349.8,725.5L363.2,712.1M351.4,708.5L364.8,721.9M351.4,721.9L364.8,708.5M353.0,708.7L366.4,722.1M353.0,722.1L366.4,708.7M354.6,708.9L368.0,722.3M354.6,722.3L368.0,708.9M356.2,707.9L369.6,721.3M356.2,721.3L369.6,707.9M357.8,707.6L371.2,721.0M357.8,721.0L371.2,707.6M359.4,703.2L372.8,716.6M359.4,716.6L372.8,703.2M361.0,703.4L374.4,716.8M361.0,716.8L374.4,703.4M362.6,702.1L376.0,715.5M362.6,715.5L376.0,702.1M364.2,701.8L377.6,715.2M364.2,715.2L377.6,701.8M365.8,700.9L379.2,714.3M365.8,714.3L379.2,700.9M367.4,695.8L380.8,709.2M367.4,709.2L380.8,695.8M369.0,699.1L382.4,712.5M369.0,712.5L382.4,699.1M370.6,695.4L384.0,708.8M370.6,708.8L384.0,695.4M372.2,696.9L385.6,710.3M372.2,710.3L385.6,696.9M373.8,693.7L387.2,707.1M373.8,707.1L387.2,693.7M375.4,694.8L388.8,708.2M375.4,708.2L388.8,694.8M377.0,695.2L390.4,708.6M377.0,708.6L390.4,695.2M378.6,692.9L392.0,706.3M378.6,706.3L392.0,692.9M380.2,692.6L393.6,706.0M380.2,706.0L393.6,692.6M381.8,692.6L395.2,706.0M381.8,706.0L395.2,692.6M383.4,691.2L396.8,704.6M383.4,704.6L396.8,691.2M385.0,690.4L398.4,703.8M385.0,703.8L398.4,690.4M386.6,691.5L400.0,704.9M386.6,704.9L400.0,691.5M388.2,690.3L401.6,703.7M388.2,703.7L401.6,690.3M389.8,687.9L403.2,701.3M389.8,701.3L403.2,687.9M391.4,690.2L404.8,703.6M391.4,703.6L404.8,690.2M393.0,685.0L406.4,698.4M393.0,698.4L406.4,685.0M394.6,686.3L408.0,699.7M394.6,699.7L408.0,686.3M396.2,684.1L409.6,697.5M396.2,697.5L409.6,684.1M397.8,683.7L411.2,697.1M397.8,697.1L411.2,683.7M399.4,683.5L412.8,696.9M399.4,696.9L412.8,683.5M401.0,682.5L414.4,695.9M401.0,695.9L414.4,682.5M402.6,682.8L416.0,696.2M402.6,696.2L416.0,682.8M404.2,680.2L417.6,693.6M404.2,693.6L417.6,680.2M405.8,678.3L419.2,691.7M405.8,691.7L419.2,678.3M407.4,683.7L420.8,697.1M407.4,697.1L420.8,683.7M409.0,680.3L422.4,693.7M409.0,693.7L422.4,680.3M410.6,680.6L424.0,694.0M410.6,694.0L424.0,680.6M412.2,680.2L425.6,693.6M412.2,693.6L425.6,680.2M413.8,687.3L427.2,700.7M413.8,700.7L427.2,687.3M415.4,686.7L428.8,700.1M415.4,700.1L428.8,686.7M417.0,689.0L430.4,702.4M417.0,702.4L430.4,689.0M418.6,683.9L432.0,697.3M418.6,697.3L432.0,683.9M420.2,686.9L433.6,700.3M420.2,700.3L433.6,686.9M421.8,684.9L435.2,698.3M421.8,698.3L435.2,684.9M423.4,690.2L436.8,703.6M423.4,703.6L436.8,690.2M425.0,692.9L438.4,706.3M425.0,706.3L438.4,692.9M426.6,687.5L440.0,700.9M426.6,700.9L440.0,687.5M428.2,693.8L441.6,707.2M428.2,707.2L441.6,693.8M429.8,692.9L443.2,706.3M429.8,706.3L443.2,692.9M431.4,690.5L444.8,703.9M431.4,703.9L444.8,690.5M433.0,686.6L446.4,700.0M433.0,700.0L446.4,686.6M436.1,679.0L449.5,692.4M436.1,692.4L449.5,679.0M439.0,698.3L452.4,711.7M439.0,711.7L452.4,698.3M441.8,722.2L455.2,735.6M441.8,735.6L455.2,722.2M444.8,691.5L458.2,704.9M444.8,704.9L458.2,691.5M446.8,737.3L460.2,750.7M446.8,750.7L460.2,737.3M448.5,740.7L461.9,754.1M448.5,754.1L461.9,740.7M449.6,693.5L463.0,706.9M449.6,706.9L463.0,693.5M453.5,687.7L466.9,701.1M453.5,701.1L466.9,687.7M455.4,690.6L468.8,704.0M455.4,704.0L468.8,690.6M457.6,690.1L471.0,703.5M457.6,703.5L471.0,690.1M461.2,693.5L474.6,706.9M461.2,706.9L474.6,693.5M465.0,699.3L478.4,712.7M465.0,712.7L478.4,699.3M466.5,690.1L479.9,703.5M466.5,703.5L479.9,690.1M463.6,759.1L477.0,772.5M463.6,772.5L477.0,759.1M470.3,757.5L483.7,770.9M470.3,770.9L483.7,757.5M472.8,719.7L486.2,733.1M472.8,733.1L486.2,719.7M476.6,683.8L490.0,697.2M476.6,697.2L490.0,683.8M477.6,653.9L491.0,667.3M477.6,667.3L491.0,653.9M482.9,727.3L496.3,740.7M482.9,740.7L496.3,727.3M484.5,753.3L497.9,766.7M484.5,766.7L497.9,753.3M486.2,730.6L499.6,744.0M486.2,744.0L499.6,730.6M489.2,707.0L502.6,720.4M489.2,720.4L502.6,707.0M490.1,686.7L503.5,700.1M490.1,700.1L503.5,686.7M492.1,691.2L505.5,704.6M492.1,704.6L505.5,691.2M494.0,693.5L507.4,706.9M494.0,706.9L507.4,693.5M496.0,684.2L509.4,697.6M496.0,697.6L509.4,684.2M499.8,659.7L513.2,673.1M499.8,673.1L513.2,659.7M503.6,669.3L517.0,682.7M503.6,682.7L517.0,669.3M499.8,674.2L513.2,687.6M499.8,687.6L513.2,674.2M503.6,680.9L517.0,694.3M503.6,694.3L517.0,680.9M507.5,690.6L520.9,704.0M507.5,704.0L520.9,690.6M509.4,704.1L522.8,717.5M509.4,717.5L522.8,704.1M512.2,737.3L525.6,750.7M512.2,750.7L525.6,737.3" stroke="#000099" stroke-width="1.2" fill="none"/>
</svg></body></html>
